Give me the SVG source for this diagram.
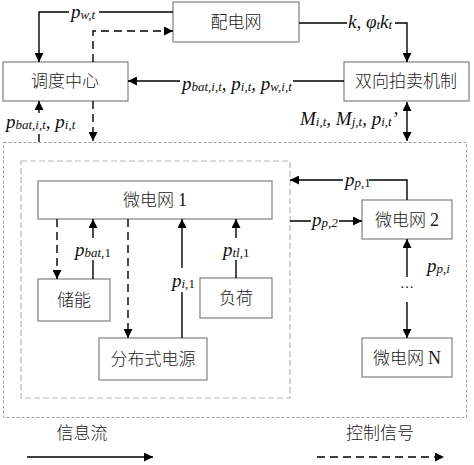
<svg xmlns="http://www.w3.org/2000/svg" width="474" height="465" viewBox="0 0 474 465">
<defs>
<marker id="ah" viewBox="0 0 10 10" refX="10" refY="5" markerWidth="9" markerHeight="9" markerUnits="userSpaceOnUse" orient="auto-start-reverse">
<path d="M0,0 L10,5 L0,10 z" fill="#000"/>
</marker>
<style>
.box{fill:#fff;stroke:#808080;stroke-width:1.2}
.cn{font-family:"Noto Sans CJK SC","Liberation Serif",serif;font-size:17px;font-weight:300;fill:#1a1a1a;text-anchor:middle}
.num{font-family:"Liberation Serif",serif;font-size:18px;font-weight:normal}
.lab{font-family:"Liberation Serif",serif;font-style:italic;font-size:19px;fill:#111}
.sub{font-size:13px}
.up{font-style:normal}
.ln{fill:none;stroke:#000;stroke-width:1.4}
.da{fill:none;stroke:#000;stroke-width:1.4;stroke-dasharray:8,5}
.reg1{fill:none;stroke:#9a9a9a;stroke-width:1;stroke-dasharray:3,2}
.reg2{fill:none;stroke:#b8b8b8;stroke-width:1.2;stroke-dasharray:6,3}
</style>
</defs>
<rect width="474" height="465" fill="#fff"/>
<g id="regions">
<rect class="reg1" x="3.5" y="142.5" width="463" height="275"/>
<rect class="reg2" x="21" y="161" width="269" height="237"/>
</g>
<g id="node-peidianwang"><rect class="box" x="173" y="2" width="126" height="40"/><text class="cn" x="236" y="28">配电网</text></g>
<g id="node-diaodu"><rect class="box" x="3" y="62" width="125" height="39"/><text class="cn" x="65" y="87">调度中心</text></g>
<g id="node-paimai"><rect class="box" x="344" y="62" width="125" height="39"/><text class="cn" x="406" y="87">双向拍卖机制</text></g>
<g id="node-mg1"><rect class="box" x="38" y="181" width="234" height="38"/><text class="cn" x="155" y="206">微电网 <tspan class="num">1</tspan></text></g>
<g id="node-chuneng"><rect class="box" x="38" y="279" width="72" height="42"/><text class="cn" x="74" y="306">储能</text></g>
<g id="node-fuhe"><rect class="box" x="200" y="278" width="72" height="40"/><text class="cn" x="236" y="304">负荷</text></g>
<g id="node-fenbushi"><rect class="box" x="99" y="338" width="108" height="42"/><text class="cn" x="153" y="365">分布式电源</text></g>
<g id="node-mg2"><rect class="box" x="362" y="200" width="90" height="39"/><text class="cn" x="407" y="226">微电网 <tspan class="num">2</tspan></text></g>
<g id="node-mgN"><rect class="box" x="362" y="338" width="90" height="39"/><text class="cn" x="407" y="364">微电网 <tspan class="num">N</tspan></text></g>
<g id="connectors">
<path class="ln" d="M173,12 H99 M69,12 H39 V62" marker-end="url(#ah)"/>
<path class="da" d="M93,62 V31 H173" marker-end="url(#ah)"/>
<path class="da" d="M93,101 V141" marker-end="url(#ah)"/>
<path class="ln" d="M299,23 H347 M395,23 H407 V62" marker-end="url(#ah)"/>
<path class="ln" d="M344,81 H293 M180,81 H128" marker-end="url(#ah)"/>
<path class="ln" d="M407,102 V141" marker-start="url(#ah)" marker-end="url(#ah)"/>
<path class="ln" d="M39,142 V134"/>
<path class="ln" d="M39,113 V101" marker-end="url(#ah)"/>
<path class="da" d="M57,219 V279" marker-end="url(#ah)"/>
<path class="ln" d="M93,279 V260 M93,238 V219" marker-end="url(#ah)"/>
<path class="da" d="M128,219 V338" marker-end="url(#ah)"/>
<path class="ln" d="M182,338 V292 M182,268 V219" marker-end="url(#ah)"/>
<path class="ln" d="M236,278 V260 M236,238 V219" marker-end="url(#ah)"/>
<path class="ln" d="M407,200 V180 H369 M343,180 H290" marker-end="url(#ah)"/>
<path class="ln" d="M290,221 H311 M339,221 H362" marker-end="url(#ah)"/>
<path class="ln" d="M407,277 V239" marker-end="url(#ah)"/>
<path class="ln" d="M407,302 V338" marker-end="url(#ah)"/>
</g>
<g id="labels">
<text class="lab" x="71" y="18">p<tspan class="sub" dy="1">w,t</tspan></text>
<text class="lab" x="348" y="28">k, φ<tspan class="sub" dy="1">t</tspan><tspan dy="-1">k</tspan><tspan class="sub" dy="1">t</tspan></text>
<text class="lab" x="182" y="90">p<tspan class="sub" dy="1">bat,i,t</tspan><tspan dy="-1">, p</tspan><tspan class="sub" dy="1">i,t</tspan><tspan dy="-1">, p</tspan><tspan class="sub" dy="1">w,i,t</tspan></text>
<text class="lab" x="300" y="125">M<tspan class="sub" dy="1">i,t</tspan><tspan dy="-1">, M</tspan><tspan class="sub" dy="1">j,t</tspan><tspan dy="-1">, p</tspan><tspan class="sub" dy="1">i,t</tspan><tspan dy="-1">’</tspan></text>
<text class="lab" x="6" y="128">p<tspan class="sub" dy="1">bat,i,t</tspan><tspan dy="-1">, p</tspan><tspan class="sub" dy="1">i,t</tspan></text>
<text class="lab" x="75" y="256">p<tspan class="sub" dy="1">bat,<tspan class="up">1</tspan></tspan></text>
<text class="lab" x="172" y="287">p<tspan class="sub" dy="1">i,<tspan class="up">1</tspan></tspan></text>
<text class="lab" x="223" y="256">p<tspan class="sub" dy="1">tl,<tspan class="up">1</tspan></tspan></text>
<text class="lab" x="345" y="186">p<tspan class="sub" dy="1">p,<tspan class="up">1</tspan></tspan></text>
<text class="lab" x="312" y="226">p<tspan class="sub" dy="1">p,2</tspan></text>
<text class="lab" x="427" y="272">p<tspan class="sub" dy="1">p,i</tspan></text>
<text x="407" y="292" style="font-family:'Liberation Serif',serif;font-size:14px;text-anchor:middle;fill:#111">···</text>
</g>
<g id="legend">
<text class="cn" x="82" y="439">信息流</text>
<path class="ln" d="M27,457 H153" marker-end="url(#ah)"/>
<text class="cn" x="380" y="439">控制信号</text>
<path class="da" d="M317,457 H444" marker-end="url(#ah)"/>
</g>
</svg>
